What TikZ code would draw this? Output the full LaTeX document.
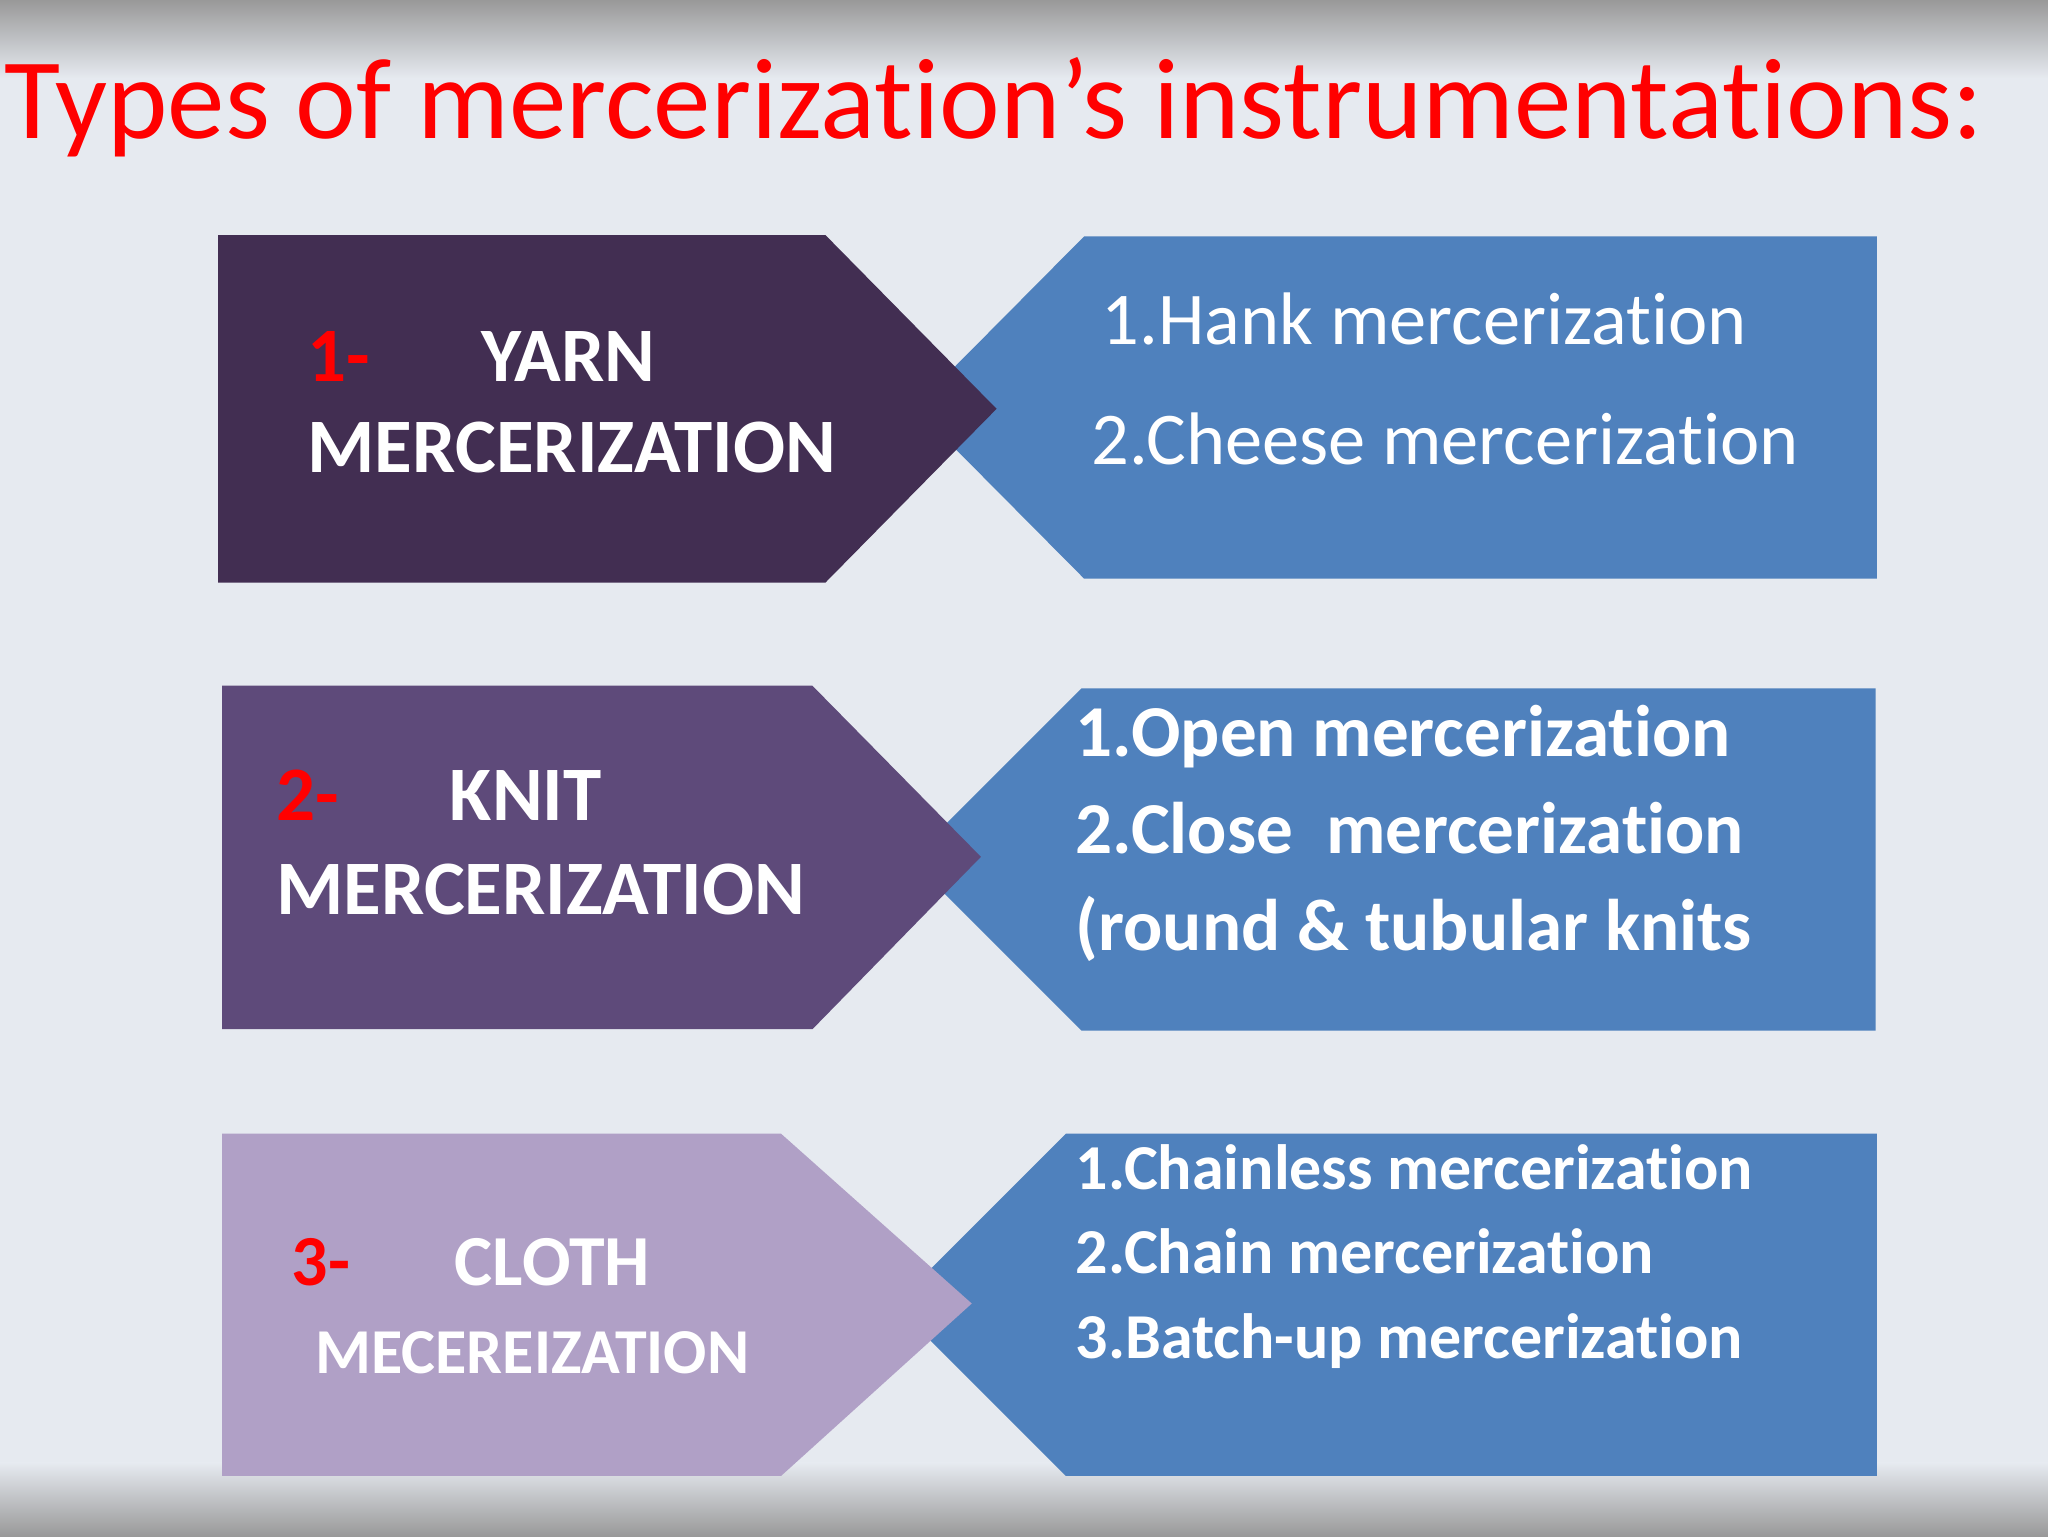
\documentclass[tikz,border=0pt]{standalone}
\usepackage{fontspec}
\setmainfont[Ligatures=NoCommon]{Carlito}
\begin{document}
\begin{tikzpicture}[x=1pt,y=-1pt,
  blue/.style={fill=blueA,draw=none},
  lbl/.style={text=white,font=\bfseries,align=left,anchor=west},
  rtxt/.style={text=white,align=left,anchor=west}]
\definecolor{blueA}{HTML}{4F81BD}
\definecolor{p1}{HTML}{422E52}
\definecolor{p2}{HTML}{5E4A7A}
\definecolor{p3}{HTML}{B0A0C6}
\definecolor{bg}{HTML}{E6EAF0}
\useasboundingbox (0,0) rectangle (1568,1176);
\fill[bg] (0,0) rectangle (1568,1176);
\shade[top color=gray!80,bottom color=bg] (0,0) rectangle (1568,60);
\shade[top color=bg,bottom color=gray!80] (0,1120) rectangle (1568,1176);
\node[anchor=west,text=red,font=\fontsize{88}{90}\selectfont] (title) at (0,82) {Types of mercerization’s instrumentations:};
% row 1
\fill[blue] (830,181) -- (1437,181) -- (1437,443) -- (830,443) -- (700,312) -- cycle;
\fill[p1] (167,180) -- (632,180) -- (763,313) -- (632,446) -- (167,446) -- cycle;
\node[lbl,font=\bfseries\fontsize{59}{70}\selectfont] (y) at (232,308) {\textcolor{red}{1-}\hspace{85pt}YARN\\MERCERIZATION};
\node[rtxt,font=\fontsize{57}{92}\selectfont] (yr) at (832,290) {\hspace{8pt}1.Hank mercerization\\2.Cheese mercerization};
% row 2
\fill[blue] (828,527) -- (1436,527) -- (1436,789) -- (828,789) -- (697,658) -- cycle;
\fill[p2] (170,525) -- (622,525) -- (751,656) -- (622,788) -- (170,788) -- cycle;
\node[lbl,font=\bfseries\fontsize{59}{72}\selectfont] (k) at (208,645) {\textcolor{red}{2-}\hspace{85pt}KNIT\\MERCERIZATION};
\node[rtxt,font=\bfseries\fontsize{56}{74}\selectfont] (kr) at (820,638) {1.Open mercerization\\2.Close\ \ mercerization\\(round \& tubular knits};
% row 3
\fill[blue] (816,868) -- (1437,868) -- (1437,1130) -- (816,1130) -- (685,999) -- cycle;
\fill[p3] (170,868) -- (598,868) -- (744,998) -- (598,1130) -- (170,1130) -- cycle;
\node[lbl,font=\bfseries\fontsize{55}{68}\selectfont] (c) at (220,1000) {\textcolor{red}{3-}\hspace{80pt}CLOTH\\\hspace{18pt}\fontsize{49}{60}\selectfont MECEREIZATION};
\node[rtxt,font=\bfseries\fontsize{49}{65}\selectfont] (cr) at (820,962) {1.Chainless mercerization\\2.Chain mercerization\\3.Batch-up mercerization};
\end{tikzpicture}
\end{document}
